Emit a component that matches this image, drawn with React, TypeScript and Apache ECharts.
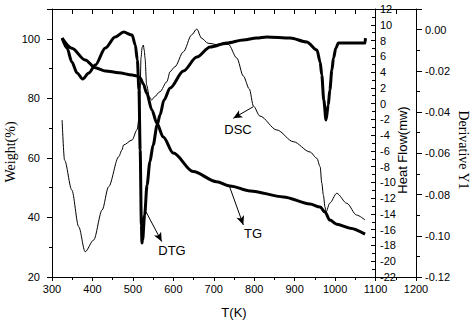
import React, { useEffect, useRef } from "react";
import * as echarts from "echarts";

// TG curve: temperature (K) and weight (%)
const tgT = [325, 349, 382, 407, 432, 465, 498, 510, 518, 526, 534, 547, 559, 575, 600, 649, 707, 740, 790, 872, 938, 963, 975, 987, 1004, 1037, 1074];
const tgW = [100.2, 96.8, 92.9, 90.3, 89.2, 88.6, 87.8, 87.5, 86.8, 84.8, 81.8, 76.1, 71.7, 67.0, 61.6, 55.4, 52.0, 50.6, 48.9, 46.9, 44.5, 43.5, 41.8, 39.1, 37.7, 36.4, 34.4];

// DTG curve: temperature (K) and derivative
const dtgT = [325, 337, 349, 362, 376, 391, 407, 432, 456, 477, 498, 506, 511, 515, 518, 521, 522.5, 524, 529, 535, 542, 550, 560, 567, 577, 592, 625, 658, 691, 732, 773, 806, 831, 889, 930, 955, 963, 967, 972, 977.5, 983, 987, 992, 996, 1002, 1008, 1037, 1074, 1075];
const dtgD = [-0.0041, -0.0089, -0.0157, -0.021, -0.024, -0.021, -0.0172, -0.0089, -0.0036, -0.0012, -0.0026, -0.0075, -0.0147, -0.0293, -0.0584, -0.0948, -0.1035, -0.1021, -0.0899, -0.0754, -0.0642, -0.056, -0.0463, -0.0414, -0.0341, -0.0283, -0.0201, -0.0133, -0.0084, -0.0065, -0.005, -0.0041, -0.0036, -0.0041, -0.006, -0.0099, -0.0157, -0.022, -0.0341, -0.0438, -0.0366, -0.0293, -0.0196, -0.0138, -0.0089, -0.0065, -0.0065, -0.0065, -0.0041];

// DSC curve: temperature (K) and heat flow (mw)
const dscT = [325, 331, 349, 366, 382, 403, 424, 440, 465, 473, 477, 498, 510, 516, 518, 520, 523, 525.8, 528, 530, 534, 540.6, 546.5, 553, 567, 584, 592, 604, 625, 645, 658, 670, 686, 715, 736, 757, 773, 788, 798, 814, 856, 897, 938, 955, 963, 967, 971, 975, 977.5, 987, 1004, 1029, 1053, 1074];
const dscH = [-2.08, -7.16, -10.96, -15.62, -18.79, -17.31, -13.5, -10.54, -6.74, -5.89, -5.25, -4.62, -3.35, -1.66, 1.72, 5.78, 7.18, 7.43, 6.8, 5.78, 2.36, 0.87, 0.45, 0.84, 1.51, 2.78, 4.05, 4.68, 6.58, 8.7, 9.46, 8.28, 7.65, 7.43, 7.52, 5.78, 3.5, 1.85, -0.31, -1.58, -3.35, -4.84, -6.14, -6.94, -8.01, -10.08, -11.6, -13.12, -13.75, -12.61, -11.38, -12.65, -14.14, -14.77];

// Annotation arrows in (K, weight %) coordinates: [fromT, fromW, toT, toW]
const arrows = [
  [797.8, 77.2, 748.3, 73.3],
  [738.4, 50.6, 773.0, 37.5],
  [532.4, 41.9, 571.3, 31.9],
];

const SANS = '"Liberation Sans", Arial, sans-serif';
const SERIF = '"Liberation Serif", "Times New Roman", serif';
const BLACK = "#000";

const zip = (xs: number[], ys: number[]) => xs.map((x, i) => [x, ys[i]]);

export default function App() {
  const ref = useRef<HTMLDivElement>(null);
  useEffect(() => {
    if (!ref.current) return;
    const chart = echarts.init(ref.current, null, { renderer: "svg" });
    const axisLine = { show: true, onZero: false, lineStyle: { color: BLACK, width: 1 } };
    const label = { color: BLACK, fontSize: 11, fontFamily: SANS };
    const txt = (text: string, x: number, y: number, font: string, rotation = 0) => ({
      type: "text", x, y, rotation,
      style: { text, fill: BLACK, font, align: "center", verticalAlign: "middle" },
    });
    chart.setOption({
      animation: false,
      grid: { left: 52, right: 58, top: 9, bottom: 48, containLabel: false, outerBoundsMode: "none" },
      xAxis: [
        {
          type: "value", min: 300, max: 1200, interval: 100, position: "bottom",
          axisLine, axisTick: { show: true, inside: false, length: 4, lineStyle: { color: BLACK } },
          minorTick: { show: true, splitNumber: 2, length: 3, lineStyle: { color: BLACK } },
          splitLine: { show: false },
          axisLabel: { ...label, margin: 6, formatter: (v: number) => String(v) },
          name: "T(K)", nameLocation: "middle", nameGap: 29,
          nameTextStyle: { color: BLACK, fontSize: 13, fontFamily: SANS },
        },
        {
          type: "value", min: 300, max: 1200, interval: 50, position: "top",
          axisLine, axisTick: { show: true, inside: true, length: 5, lineStyle: { color: BLACK } },
          splitLine: { show: false }, axisLabel: { show: false },
        },
      ],
      yAxis: [
        {
          type: "value", min: 20, max: 110, interval: 20, position: "left",
          axisLine, axisTick: { show: true, inside: false, length: 5, lineStyle: { color: BLACK } },
          minorTick: { show: true, splitNumber: 2, length: 3, lineStyle: { color: BLACK } },
          splitLine: { show: false },
          axisLabel: { ...label, margin: 12, showMaxLabel: false, formatter: (v: number) => String(v) },
        },
        {
          type: "value", min: -22, max: 12, interval: 2, position: "right", offset: -41,
          axisLine, axisTick: { show: true, inside: true, length: 4, lineStyle: { color: BLACK } },
          minorTick: { show: true, splitNumber: 2, length: 3, lineStyle: { color: BLACK } },
          splitLine: { show: false },
          axisLabel: { ...label, margin: 5, formatter: (v: number) => String(v) },
        },
        {
          type: "value", min: -0.12, max: 0.01, interval: 0.02, position: "right", offset: 0,
          axisLine, axisTick: { show: true, inside: false, length: 6, lineStyle: { color: BLACK } },
          minorTick: { show: true, splitNumber: 2, length: 4, lineStyle: { color: BLACK } },
          splitLine: { show: false },
          axisLabel: {
            ...label, margin: 9, showMaxLabel: false,
            formatter: (v: number) => (Math.abs(v) < 1e-9 ? "0.00" : v.toFixed(2)),
          },
        },
      ],
      series: [
        {
          name: "TG", type: "line", xAxisIndex: 0, yAxisIndex: 0,
          data: zip(tgT, tgW), showSymbol: false, smooth: 0.3, smoothMonotone: "x",
          lineStyle: { color: BLACK, width: 3 },
          markLine: {
            silent: true, symbol: ["none", "arrow"], symbolSize: [6, 9],
            label: { show: false },
            lineStyle: { color: BLACK, width: 1, type: "solid" },
            data: arrows.map((a) => [{ coord: [a[0], a[1]] }, { coord: [a[2], a[3]] }]),
          },
        },
        {
          name: "DTG", type: "line", xAxisIndex: 0, yAxisIndex: 2,
          data: zip(dtgT, dtgD), showSymbol: false, smooth: 0.3, smoothMonotone: "x",
          lineStyle: { color: BLACK, width: 3 },
        },
        {
          name: "DSC", type: "line", xAxisIndex: 0, yAxisIndex: 1,
          data: zip(dscT, dscH), showSymbol: false, smooth: 0.3, smoothMonotone: "x",
          lineStyle: { color: BLACK, width: 1 },
        },
      ],
      graphic: [
        txt("Weight(%)", 10, 152, `14px ${SERIF}`, Math.PI / 2),
        txt("Heat Flow(mw)", 402, 150, `13px ${SANS}`, Math.PI / 2),
        txt("Derivative Y1", 463, 150, `14px ${SERIF}`, -Math.PI / 2),
        txt("DSC", 238, 129, `13px ${SANS}`),
        txt("TG", 253, 233, `13px ${SANS}`),
        txt("DTG", 172, 250, `13px ${SANS}`),
      ],
    });
    return () => chart.dispose();
  }, []);
  return <div ref={ref} style={{ position: "fixed", left: 0, top: 0, width: 474, height: 325, background: "#fff" }} />;
}
